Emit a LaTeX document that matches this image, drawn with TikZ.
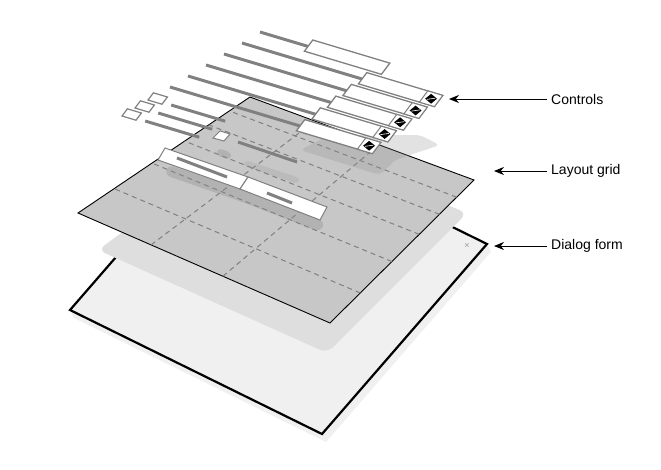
\documentclass[tikz,border=0pt]{standalone}
\usepackage{fontspec}
\setmainfont{Liberation Sans}
\usetikzlibrary{calc,arrows.meta,shapes.geometric}
\begin{document}
\begin{tikzpicture}[x=1pt,y=-1pt,
  lbl/.style={line width=3pt, draw=black!50},
  ctl/.style={draw=black!50, line width=1.3pt, fill=white},
  dsh/.style={draw=black!50, line width=1pt, dash pattern=on 5pt off 4pt},
  shd/.style={fill=black!45, opacity=0.35},
  tag/.style={anchor=west, font=\fontsize{14}{16}\selectfont, inner sep=0pt},
  pointer/.style={-{Stealth[length=10pt,width=8pt]}, line width=1pt}]
\useasboundingbox (0,0) rectangle (661,469);
% dialog form
\coordinate (DL) at (70,310); \coordinate (DB) at (322,434);
\coordinate (DR) at (487,244); \coordinate (DT) at (235,120);
\fill[black!6] ($(DL)+(4,8)$) -- ($(DB)+(4,8)$) -- ($(DR)+(4,8)$) -- (DR) -- (DB) -- (DL) -- cycle;
\draw[line width=2.2pt, fill=black!6, line join=miter] (DL) -- (DB) -- (DR) -- (DT) -- cycle;
\node[text=black!40, font=\small] (close) at (467,246) {×};
% shadow of grid
\fill[black!13, rounded corners=8pt] (98,250) -- (327,353) -- (467,213) -- (262,130) -- cycle;
% layout grid
\coordinate (GL) at (78,213); \coordinate (GB) at (330,323);
\coordinate (GR) at (474,180); \coordinate (GT) at (250,97);
\draw[fill=black!22, line width=0.9pt] (GL) -- (GB) -- (GR) -- (GT) -- cycle;
\foreach \t in {0.29,0.575} \draw[dsh] ($(GL)!\t!(GB)$) -- ($(GT)!\t!(GR)$);
\foreach \s in {0.21,0.43,0.62,0.76,0.88} \draw[dsh] ($(GB)!\s!(GR)$) -- ($(GL)!\s!(GT)$);
% shadows of controls
\fill[shd, rounded corners=5pt] (165,175) -- (245,203) -- (320,232) -- (325,222) -- (250,192) -- (168,165) -- cycle;
\fill[shd, rounded corners=4pt] (218,148) -- (232,153) -- (230,160) -- (216,155) -- cycle;
\fill[shd, opacity=0.2, rounded corners=4pt] (245,160) -- (300,178) -- (298,184) -- (243,166) -- cycle;
\fill[shd, opacity=0.25, rounded corners=5pt] (300,150) -- (380,175) -- (395,160) -- (440,145) -- (420,135) -- (330,135) -- cycle;
% controls lying on the grid
\draw[ctl, line width=1pt] (213,138) -- (220,131) -- (230,134) -- (224,141) -- cycle;
\draw[lbl] (238,142) -- (297,162);
\draw[ctl, line width=1pt] (158,160) -- (165,148) -- (248,177) -- (240,189) -- cycle;
\draw[ctl, line width=1pt] (240,189) -- (248,177) -- (327,207) -- (320,220) -- cycle;
\draw[lbl] (177,158) -- (227,177);
\draw[lbl] (267,193) -- (292,203);
% text box row
\begin{scope}[shift={(260,32)}, x={(1pt,-0.3pt)}, y={(0.6pt,0.8pt)}]
  \draw[lbl] (0,0) -- (48,0);
  \draw[ctl] (48,-6) -- (125,-6) -- (125,8) -- (48,8) -- cycle;
\end{scope}
% dropdown rows
\foreach \k in {1,...,5}{
  \pgfmathsetmacro\L{117.5+2.5*\k}
  \begin{scope}[shift={(260-18*\k,32+11*\k)}, x={(1pt,-0.3pt)}, y={(0.6pt,0.8pt)}]
    \draw[lbl] (0,0) -- (\L,0);
    \draw[ctl] (\L,-6) -- (\L+76,-6) -- (\L+76,8) -- (\L,8) -- cycle;
    \draw[ctl, line width=1pt] (\L+61,-6) -- (\L+76,-6) -- (\L+76,8) -- (\L+61,8) -- cycle;
    \node[diamond, fill=black, inner sep=0pt, minimum width=12pt, minimum height=10pt] (dd\k) at (\L+68.5,1) {};
    \draw[white, line width=0.6pt] ($(dd\k.west)+(2,0)$) -- ($(dd\k.east)+(-2,0)$);
  \end{scope}
}
% checkbox rows
\foreach \cx/\cy in {148/100,135/108,122/116}{
  \begin{scope}[shift={(\cx,\cy)}, x={(1pt,-0.3pt)}, y={(0.6pt,0.8pt)}]
    \draw[ctl, line width=1.2pt] (0,0) -- (14,0) -- (14,9) -- (0,9) -- cycle;
    \draw[lbl] (22,2) -- (76,2);
  \end{scope}
}
% labels
\node[tag] (lc) at (551,99) {Controls};
\node[tag] (lg) at (551,171) {Layout grid};
\node[tag] (ld) at (551,246) {Dialog form};
\coordinate (ac) at (449,99);
\coordinate (ag) at (494,171);
\coordinate (ad) at (494,246);
\draw[pointer] ($(lc.west)+(-4,0)$) -- (ac);
\draw[pointer] ($(lg.west)+(-4,0)$) -- (ag);
\draw[pointer] ($(ld.west)+(-4,0)$) -- (ad);
\end{tikzpicture}
\end{document}
